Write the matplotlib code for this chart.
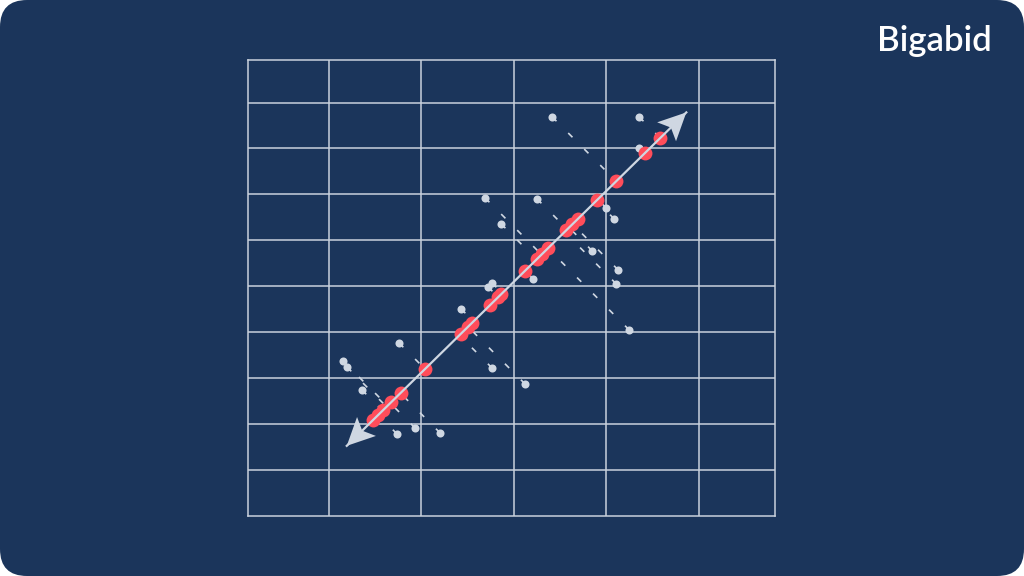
import numpy as np
import matplotlib
matplotlib.use("Agg")
import matplotlib.pyplot as plt
from matplotlib.patches import FancyBboxPatch, Polygon
from matplotlib.transforms import IdentityTransform

# Observed points (grid units, one cell = 1 wide x 0.5 tall)
obs_x = [1.155, 1.198, 1.360, 1.761, 1.739, 1.934, 2.205, 2.432, 2.692, 2.724,
         2.767, 2.767, 2.865, 3.124, 3.211, 3.254, 3.417, 3.850, 4.001, 4.088,
         4.110, 4.131, 4.250, 4.358, 4.358]
obs_y = [1.685, 1.619, 1.369, 1.881, 0.890, 0.955, 0.901, 2.252, 3.460, 2.491,
         2.534, 1.608, 3.178, 1.434, 2.579, 3.449, 4.343, 2.884, 3.352, 3.232,
         2.524, 2.676, 2.023, 4.343, 4.005]

# Projected points along the fitted line
proj_x = [1.479, 1.534, 1.588, 1.674, 1.782, 2.042, 2.432, 2.508, 2.551, 2.746,
          2.832, 2.865, 3.124, 3.254, 3.308, 3.373, 3.568, 3.633, 3.698, 3.904,
          4.109, 4.423, 4.586]

# fitted line y = slope*x + intercept, drawn between two arrow tips
slope = 0.989
intercept = -0.421
line_ends = [1.195, 4.867]

x_ticks = [1, 2, 3, 4, 5]
y_ticks = [0.5, 1.0, 1.5, 2.0, 2.5, 3.0, 3.5, 4.0, 4.5]

navy = "#1B355B"
grid_c = "#C9D1DD"
dot_c = "#CFD7E2"
red = "#FF4D5A"

fig = plt.figure(figsize=(10.24, 5.76), dpi=100, facecolor="white")

# rounded navy card behind everything
card = FancyBboxPatch((0, 0), 1024, 576, boxstyle="round,pad=0,rounding_size=27",
                      transform=IdentityTransform(), facecolor=navy, edgecolor="none",
                      zorder=-5)
fig.add_artist(card)

ax = fig.add_axes([248 / 1024, 60.3 / 576, 527 / 1024, 455.4 / 576])
ax.set_facecolor("none")
ax.set_xlim(0.127, 5.826)
ax.set_ylim(0, 4.96)
ax.set_xticks(x_ticks)
ax.set_yticks(y_ticks)
ax.tick_params(length=0, labelbottom=False, labelleft=False)
ax.grid(True, color=grid_c, lw=1.1)
ax.set_axisbelow(True)
for s in ax.spines.values():
    s.set_color(grid_c)
    s.set_linewidth(1.1)

ox = np.array(obs_x)
oy = np.array(obs_y)
# foot of perpendicular from each point to the line
fx = (ox + slope * (oy - intercept)) / (1 + slope ** 2)
fy = slope * fx + intercept

for x0, y0, x1, y1 in zip(ox, oy, fx, fy):
    ax.plot([x0, x1], [y0, y1], color=dot_c, lw=1.2,
            linestyle=(0, (3.6, 10.0)), solid_capstyle="butt", zorder=2)
ax.plot(ox, oy, "o", color=dot_c, ms=5.8, mec="none", zorder=3)

px = np.array(proj_x)
ax.plot(px, slope * px + intercept, "o", color=red, ms=10, mec="none", zorder=4)

lx = np.array(line_ends)
ly = slope * lx + intercept
ax.plot(lx, ly, color=dot_c, lw=1.6, zorder=5)

# concave arrow heads on both ends
u = np.array([1.0, slope]) / np.hypot(1.0, slope)
n = np.array([-u[1], u[0]])
L, W, D = 0.30, 0.145, 0.235
for tip, sgn in [((lx[1], ly[1]), 1), ((lx[0], ly[0]), -1)]:
    t = np.array(tip)
    d = u * sgn
    pts = [t, t - L * d + W * n, t - D * d, t - L * d - W * n]
    ax.add_patch(Polygon(pts, closed=True, facecolor=dot_c, edgecolor="none", zorder=6))

fig.text(934 / 1024, 1 - 51 / 576, "Bigabid", color="white", fontsize=25,
         family="Lato", weight="semibold", ha="center", va="baseline")

fig.savefig("out.png", dpi=100, facecolor="white")
